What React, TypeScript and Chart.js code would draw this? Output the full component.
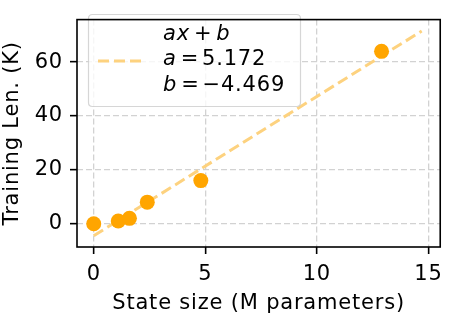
import React, { useEffect, useRef } from 'react';
import { Chart, registerables } from 'chart.js';
Chart.register(...registerables);

const pointX = [0, 1.1, 1.6, 2.4, 4.8, 12.9];
const pointY = [0, 1, 2, 8, 16, 64];
const fitX = [0, 14.7];
const fitY = [-4.469, 71.56];
const fitA = '5.172';
const fitB = '\u22124.469';
const xTicks = [0, 5, 10, 15];
const yTicks = [0, 20, 40, 60];
const xLabel = 'State size (M parameters)';
const yLabel = 'Training Len. (K)';

const FONT = "'DejaVu Sans'";
const FS = 21;
const LS = '0.8px';
const POINT_COLOR = '#FFA500';
const LINE_COLOR = '#FDD27F';
const GRID_COLOR = '#d2d2d2';

type Seg = { t?: string; i?: boolean; gap?: number };

const legendPlugin = {
  id: 'mplLegend',
  beforeDraw(chart: any) {
    (chart.ctx as any).letterSpacing = LS;
  },
  afterDatasetsDraw(chart: any) {
    const ctx = chart.ctx as CanvasRenderingContext2D;
    ctx.save();
    (ctx as any).letterSpacing = LS;
    const bx = 88.5, by = 14.5, bw = 212, bh = 92, r = 4;
    ctx.beginPath();
    ctx.moveTo(bx + r, by);
    ctx.lineTo(bx + bw - r, by);
    ctx.quadraticCurveTo(bx + bw, by, bx + bw, by + r);
    ctx.lineTo(bx + bw, by + bh - r);
    ctx.quadraticCurveTo(bx + bw, by + bh, bx + bw - r, by + bh);
    ctx.lineTo(bx + r, by + bh);
    ctx.quadraticCurveTo(bx, by + bh, bx, by + bh - r);
    ctx.lineTo(bx, by + r);
    ctx.quadraticCurveTo(bx, by, bx + r, by);
    ctx.closePath();
    ctx.fillStyle = 'rgba(255,255,255,0.8)';
    ctx.fill();
    ctx.strokeStyle = 'rgba(204,204,204,0.8)';
    ctx.lineWidth = 1.2;
    ctx.stroke();
    ctx.beginPath();
    ctx.setLineDash([11, 5]);
    ctx.strokeStyle = LINE_COLOR;
    ctx.lineWidth = 3;
    ctx.moveTo(98, 61);
    ctx.lineTo(146, 61);
    ctx.stroke();
    ctx.setLineDash([]);
    const lines: Seg[][] = [
      [{ t: 'a', i: true }, { t: 'x', i: true }, { gap: 4 }, { t: '+' }, { gap: 4 }, { t: 'b', i: true }],
      [{ t: 'a', i: true }, { gap: 4 }, { t: '=' }, { gap: 3 }, { t: fitA }],
      [{ t: 'b', i: true }, { gap: 4 }, { t: '=' }, { gap: 3 }, { t: fitB }],
    ];
    const baselines = [40, 65.3, 90.7];
    ctx.fillStyle = '#000';
    ctx.textBaseline = 'alphabetic';
    ctx.textAlign = 'left';
    lines.forEach((segs, li) => {
      let x = 163;
      segs.forEach((s) => {
        if (s.gap) {
          x += s.gap;
          return;
        }
        ctx.font = (s.i ? 'italic ' : '') + FS + 'px ' + FONT;
        ctx.fillText(s.t as string, x, baselines[li]);
        x += ctx.measureText(s.t as string).width;
      });
    });
    ctx.restore();
  },
  afterDraw(chart: any) {
    const { ctx, chartArea } = chart;
    ctx.save();
    ctx.strokeStyle = '#000';
    ctx.lineWidth = 1.6;
    ctx.strokeRect(chartArea.left, chartArea.top, chartArea.right - chartArea.left, chartArea.bottom - chartArea.top);
    ctx.restore();
  },
};

export default function App() {
  const ref = useRef<HTMLCanvasElement>(null);
  useEffect(() => {
    document.body.style.margin = '0';
    const canvas = ref.current!;
    const chart = new Chart(canvas, {
      data: {
        datasets: [
          {
            type: 'scatter',
            data: pointX.map((x, i) => ({ x, y: pointY[i] })),
            backgroundColor: POINT_COLOR,
            borderWidth: 0,
            pointRadius: 7.5,
            order: 0,
          } as any,
          {
            type: 'line',
            data: fitX.map((x, i) => ({ x, y: fitY[i] })),
            borderColor: LINE_COLOR,
            borderWidth: 3,
            borderDash: [11, 5],
            pointRadius: 0,
            fill: false,
            order: 1,
          } as any,
        ],
      },
      options: {
        responsive: false,
        animation: false,
        layout: { padding: { top: 3, right: 5, left: 0, bottom: 0 } },
        plugins: { legend: { display: false }, tooltip: { enabled: false } },
        scales: {
          x: {
            type: 'linear',
            min: -0.75,
            max: 15.53,
            afterBuildTicks: (s: any) => {
              s.ticks = xTicks.map((v) => ({ value: v }));
            },
            afterFit: (s: any) => {
              s.height = 70;
            },
            ticks: {
              font: { family: FONT, size: FS },
              color: '#000',
              padding: 8,
              callback: (v: any) => String(v),
            },
            grid: {
              color: GRID_COLOR,
              lineWidth: 1.3,
              tickColor: '#000',
              tickLength: 7,
              tickWidth: 1.6,
              tickBorderDash: [],
            } as any,
            border: { display: false, dash: [6, 3] },
            title: {
              display: true,
              text: xLabel,
              font: { family: FONT, size: FS },
              color: '#000',
              padding: { top: 0, bottom: 1 },
            },
          },
          y: {
            type: 'linear',
            min: -8.65,
            max: 75.8,
            afterBuildTicks: (s: any) => {
              s.ticks = yTicks.map((v) => ({ value: v }));
            },
            afterFit: (s: any) => {
              s.width = 77;
            },
            ticks: {
              font: { family: FONT, size: FS },
              color: '#000',
              padding: 7,
              callback: (v: any) => String(v),
            },
            grid: {
              color: GRID_COLOR,
              lineWidth: 1.3,
              tickColor: '#000',
              tickLength: 7,
              tickWidth: 1.6,
              tickBorderDash: [],
            } as any,
            border: { display: false, dash: [6, 3] },
            title: {
              display: true,
              text: yLabel,
              font: { family: FONT, size: FS },
              color: '#000',
              padding: { top: 0, bottom: 0 },
            },
          },
        },
      },
      plugins: [legendPlugin],
    } as any);
    return () => chart.destroy();
  }, []);
  return <canvas ref={ref} width={450} height={317} style={{ display: 'block' }} />;
}
